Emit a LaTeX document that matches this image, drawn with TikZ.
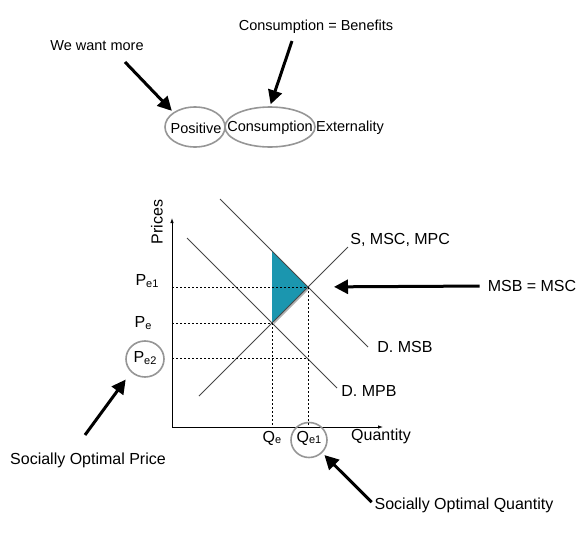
\documentclass[tikz,border=0pt]{standalone}
\usepackage{fontspec}
\setmainfont{Liberation Sans}
\usetikzlibrary{arrows.meta, shapes.geometric}
\definecolor{surplus}{RGB}{27,150,175}
\definecolor{ringgray}{RGB}{150,150,150}
\definecolor{curvegray}{RGB}{70,70,70}
\newcommand{\subtxt}[1]{\raisebox{-1.5pt}{\fontsize{11}{11}\selectfont #1}}
\tikzset{
  toptext/.style={font=\fontsize{14.5}{17}\selectfont, inner sep=0pt},
  plottext/.style={font=\fontsize{16}{19}\selectfont, inner sep=0pt},
  ring/.style={draw=ringgray, line width=1.6pt, ellipse, inner sep=0pt},
  bigarrow/.style={-{Triangle[length=14pt,width=14pt]}, line width=3pt},
  curve/.style={curvegray, line width=0.8pt},
  guide/.style={line width=0.8pt, dash pattern=on 2pt off 2pt},
  axis/.style={line width=0.8pt, -{Latex[length=5pt,width=3.5pt]}}
}

\begin{document}
\begin{tikzpicture}[x=1pt, y=-1pt]
  \useasboundingbox (0,0) rectangle (587,533);
  % Top: the externality
  \node[toptext] (wantmore) at (97,46) {We want more};
  \node[toptext] (benefits) at (316,27) {Consumption = Benefits};
  \node[ring, minimum width=60pt, minimum height=40pt] (positivering) at (195,127) {};
  \node[ring, minimum width=90pt, minimum height=40pt] (consumptionring) at (270,127) {};
  \node[toptext] (positive) at (196,128) {Positive};
  \node[toptext] (consumption) at (270,128) {Consumption};
  \node[toptext] (externality) at (350,128) {Externality};
  \coordinate (wanttail) at (125,62);
  \coordinate (benefittail) at (292,41);
  \draw[bigarrow, shorten >=2pt] (wanttail) -- (positivering.north west);
  \draw[bigarrow, shorten >=2pt] (benefittail) -- (consumptionring.north);
  % Axes
  \coordinate (O) at (172,427);
  \draw[axis] (O) -- (172,218);
  \draw[axis] (O) -- (383,427);
  \node[plottext, rotate=90] (prices) at (157,222) {Prices};
  \node[plottext] (quantity) at (381,436) {Quantity};
  % Equilibria
  \coordinate (E) at (272,323);
  \coordinate (E1) at (308,287);
  \coordinate (msbtop) at (272,251);
  % Welfare gain
  \fill[black, opacity=0.3] ([shift={(1.5,1.5)}]E) -- ([shift={(1.5,1.5)}]E1) -- ([shift={(1.5,1.5)}]msbtop) -- cycle;
  \fill[surplus] (E) -- (E1) -- (msbtop) -- cycle;
  % Curves
  \draw[curve] (220,199) -- (368,347) node[plottext, black, anchor=west, xshift=9pt] (msb) {D. MSB};
  \draw[curve] (187,238) -- (337,388) node[plottext, black, anchor=west, xshift=4pt, yshift=-3pt] (mpb) {D. MPB};
  \draw[curve] (199,396) -- (348,247) node[plottext, black, anchor=west, xshift=2pt, yshift=7pt] (supply) {S, MSC, MPC};
  % Prices and quantities
  \node[plottext] (pe1) at (147,281) {P\subtxt{e1}};
  \node[plottext] (pe) at (143,323) {P\subtxt{e}};
  \node[ring, minimum width=38pt, minimum height=36pt] (pe2ring) at (145,359) {};
  \node[plottext] (pe2) at (145,358) {P\subtxt{e2}};
  \node[plottext] (qe) at (272,438) {Q\subtxt{e}};
  \node[ring, minimum width=36pt, minimum height=35pt] (qe1ring) at (309,440) {};
  \node[plottext] (qe1) at (309,438) {Q\subtxt{e1}};
  \draw[guide] (E1 -| O) -- (E1) -- (E1 |- O);
  \draw[guide] (E -| O) -- (E) -- (E |- O);
  \draw[guide] (O |- pe2) -- (E1 |- pe2);
  % Notes
  \node[plottext] (msbmsc) at (532,286) {MSB = MSC};
  \draw[bigarrow, shorten <=8pt, shorten >=26pt] (msbmsc.west) -- (E1);
  \node[plottext] (sprice) at (88,460) {Socially Optimal Price};
  \coordinate (pricetail) at (85,435);
  \draw[bigarrow, shorten >=9pt] (pricetail) -- (pe2ring.south west);
  \node[plottext] (sqty) at (464,505) {Socially Optimal Quantity};
  \draw[bigarrow, shorten <=4pt, shorten >=3pt] (sqty.west) -- (qe1ring.south east);
\end{tikzpicture}
\end{document}
